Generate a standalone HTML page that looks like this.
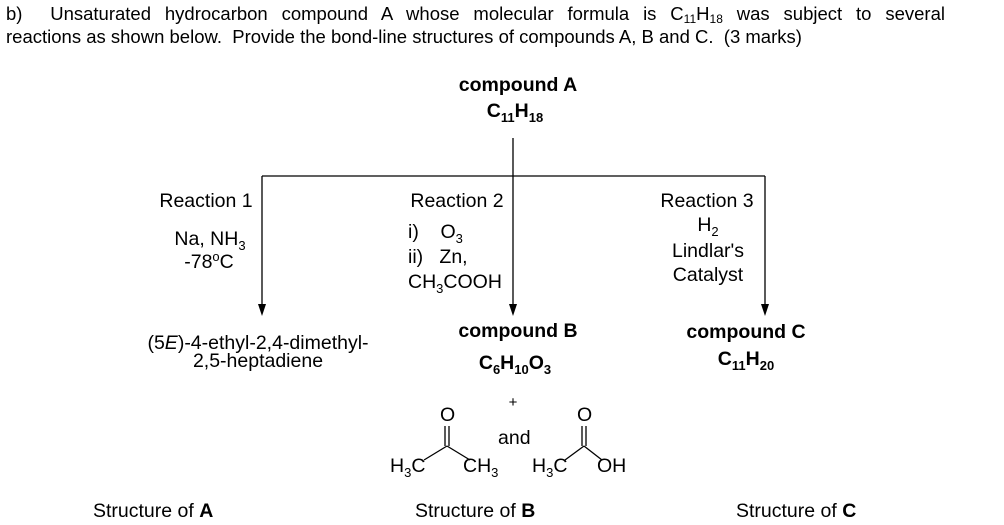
<!DOCTYPE html>
<html><head><meta charset="utf-8"><style>
body{margin:0;width:1004px;height:525px;background:#fff;position:relative;overflow:hidden;font-family:"Liberation Sans",Arial,sans-serif;color:#000}
.t{position:absolute;font-size:19.5px;line-height:22px;white-space:nowrap}
.c{text-align:center;transform:translateX(-50%)}
.b{font-weight:bold}
sub{font-size:13px;vertical-align:-5px;line-height:0}
sup{font-size:13px;vertical-align:7px;line-height:0}
.h{position:absolute;left:6px;width:939px;font-size:18.5px;line-height:22px}
.h sub{font-size:12px;vertical-align:-3px}
</style></head><body>
<div class="h" style="top:3px;text-align:justify;text-align-last:justify">b)&nbsp; Unsaturated hydrocarbon compound A whose molecular formula is C<sub>11</sub>H<sub>18</sub> was subject to several</div>
<div class="h" style="top:26px">reactions as shown below.&nbsp; Provide the bond-line structures of compounds A, B and C.&nbsp; (3 marks)</div>

<div class="t c b" style="left:518px;top:74px">compound A</div>
<div class="t c b" style="left:515px;top:100px">C<sub>11</sub>H<sub>18</sub></div>

<svg width="1004" height="525" style="position:absolute;left:0;top:0">
<g stroke="#000" stroke-width="1.3" fill="none">
<line x1="513" y1="138" x2="513" y2="308"/>
<line x1="262" y1="176" x2="765" y2="176"/>
<line x1="262" y1="176" x2="262" y2="308"/>
<line x1="765" y1="176" x2="765" y2="308"/>
<line x1="424" y1="460" x2="447" y2="446"/>
<line x1="447" y1="446" x2="470" y2="460"/>
<line x1="445" y1="426" x2="445" y2="446"/>
<line x1="449" y1="426" x2="449" y2="446"/>
<line x1="565" y1="460" x2="584" y2="446"/>
<line x1="584" y1="446" x2="602" y2="460"/>
<line x1="582" y1="426" x2="582" y2="446"/>
<line x1="586" y1="426" x2="586" y2="446"/>
</g>
<g fill="#000">
<polygon points="258,304 266,304 262,316"/>
<polygon points="509,304 517,304 513,316"/>
<polygon points="761,304 769,304 765,316"/>
</g>
</svg>

<div class="t c" style="left:206px;top:190px">Reaction 1</div>
<div class="t c" style="left:210px;top:228px">Na, NH<sub>3</sub></div>
<div class="t c" style="left:209px;top:251px">-78<sup>o</sup>C</div>

<div class="t c" style="left:457px;top:190px">Reaction 2</div>
<div class="t" style="left:408px;top:221px">i)&nbsp;&nbsp;&nbsp; O<sub>3</sub></div>
<div class="t" style="left:408px;top:246px">ii)&nbsp;&nbsp; Zn,</div>
<div class="t" style="left:408px;top:271px">CH<sub>3</sub>COOH</div>

<div class="t c" style="left:707px;top:190px">Reaction 3</div>
<div class="t c" style="left:708px;top:214px">H<sub>2</sub></div>
<div class="t c" style="left:708px;top:240px">Lindlar's</div>
<div class="t c" style="left:708px;top:264px">Catalyst</div>

<div class="t c" style="left:258px;top:332px">(5<i>E</i>)-4-ethyl-2,4-dimethyl-</div>
<div class="t c" style="left:258px;top:350px">2,5-heptadiene</div>

<div class="t c b" style="left:518px;top:320px">compound B</div>
<div class="t c b" style="left:515px;top:352px">C<sub>6</sub>H<sub>10</sub>O<sub>3</sub></div>
<div class="t c b" style="left:746px;top:321px">compound C</div>
<div class="t c b" style="left:746px;top:348px">C<sub>11</sub>H<sub>20</sub></div>

<div class="t c" style="left:513px;top:392px;font-size:15px">+</div>
<div class="t" style="left:440px;top:404px">O</div>
<div class="t" style="left:577px;top:404px">O</div>
<div class="t" style="left:390px;top:455px">H<sub>3</sub>C</div>
<div class="t" style="left:463px;top:455px">CH<sub>3</sub></div>
<div class="t" style="left:498px;top:427px">and</div>
<div class="t" style="left:532px;top:455px">H<sub>3</sub>C</div>
<div class="t" style="left:597px;top:455px">OH</div>

<div class="t" style="left:93px;top:500px">Structure of <b>A</b></div>
<div class="t" style="left:415px;top:500px">Structure of <b>B</b></div>
<div class="t" style="left:736px;top:500px">Structure of <b>C</b></div>
</body></html>
